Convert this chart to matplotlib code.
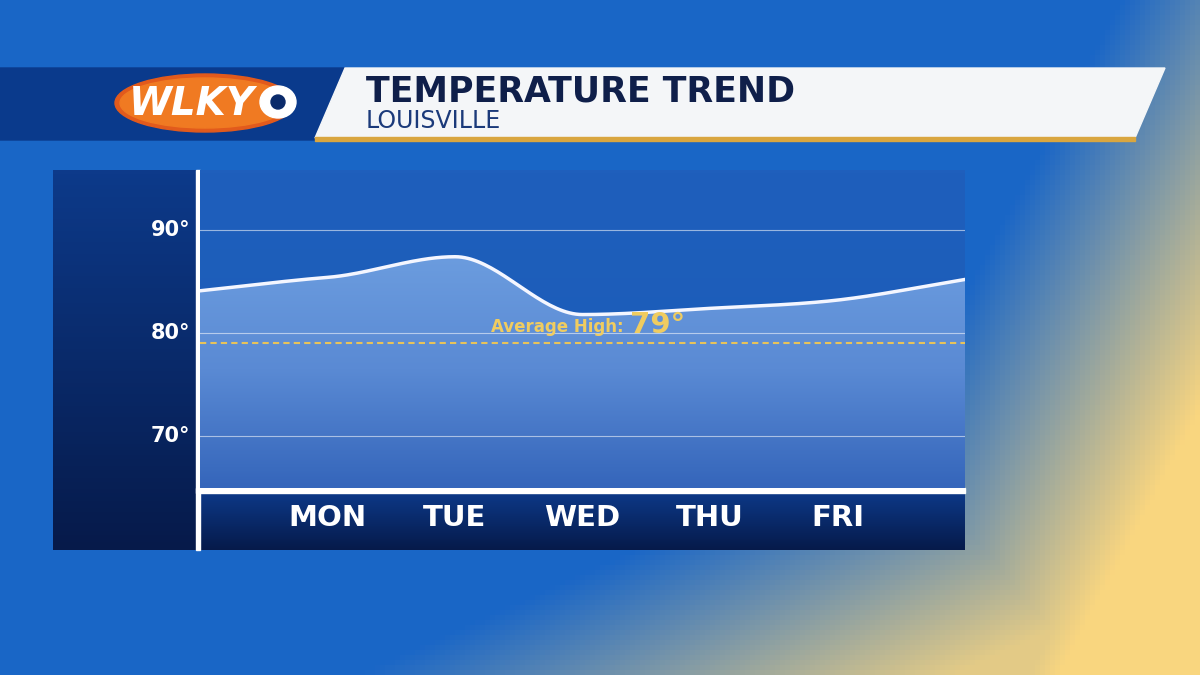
import numpy as np
import matplotlib
matplotlib.use("Agg")
import matplotlib.pyplot as plt
from matplotlib.patches import Polygon, Rectangle, Ellipse

# data
days = ["MON", "TUE", "WED", "THU", "FRI"]
curve_x = [-1, 0, 1, 2, 3, 4, 5]
curve_t = [84.1, 85.4, 87.4, 81.8, 82.4, 83.2, 85.2]
avg_high = 79
yticks = [70, 80, 90]

fig = plt.figure(figsize=(12, 6.75), dpi=100)
bg = fig.add_axes([0, 0, 1, 1])
bg.set_xlim(0, 1200)
bg.set_ylim(675, 0)
bg.axis("off")

# sky background: blue on the left, yellow-orange to the lower right
xx, yy = np.meshgrid(np.linspace(0, 1, 240), np.linspace(0, 1, 135))
blue = np.array([0.10, 0.40, 0.78])
yellow = np.array([0.98, 0.84, 0.50])
w = np.clip((xx - 0.80) * 4.0 + (yy - 0.45) * 1.2, 0, 1)[..., None]
w2 = np.clip((xx - 0.55) * 2.0 + (yy - 0.8) * 2.5, 0, 1)[..., None]
w = np.maximum(w, w2 * 0.9)
sky = blue * (1 - w) + yellow * w
bg.imshow(np.clip(sky, 0, 1), extent=[0, 1200, 675, 0], aspect="auto", zorder=0)

# header bar
bg.add_patch(Polygon([[0, 68], [345, 68], [315, 140], [0, 140]], color="#0a3a8c", zorder=2))
bg.add_patch(Polygon([[345, 68], [1165, 68], [1135, 138], [315, 138]], color="#f4f6f8", zorder=2))
bg.add_patch(Rectangle((315, 137), 820, 4, color="#d9a640", zorder=3))
bg.add_patch(Ellipse((205, 103), 180, 58, color="#e25a1c", zorder=3))
bg.add_patch(Ellipse((205, 103), 170, 50, color="#f07a22", zorder=3))
bg.text(192, 104, "WLKY", color="white", fontsize=28, fontweight="bold", style="italic",
        ha="center", va="center", family="DejaVu Sans", zorder=4)
bg.add_patch(Ellipse((278, 102), 36, 32, color="white", zorder=4))
bg.add_patch(Ellipse((278, 102), 14, 14, color="#0a2a6a", zorder=5))
bg.text(366, 92, "TEMPERATURE TREND", color="#0f1f4a", fontsize=25, fontweight="bold",
        ha="left", va="center", family="DejaVu Sans", zorder=4)
bg.text(366, 121, "LOUISVILLE", color="#1b3a7a", fontsize=17,
        ha="left", va="center", family="DejaVu Sans", zorder=4)

# chart panel
grad = np.linspace(0, 1, 100)[:, None]
left_cmap = matplotlib.colors.LinearSegmentedColormap.from_list("l", ["#0d3a8a", "#061a4a"])
bg.imshow(grad, cmap=left_cmap, extent=[53, 197, 550, 170], aspect="auto", zorder=2)
bg.imshow(grad, cmap=left_cmap, extent=[197, 965, 550, 490], aspect="auto", zorder=2)
bg.add_patch(Rectangle((196, 170), 4, 380, color="white", zorder=6))
bg.add_patch(Rectangle((196, 488), 769, 5, color="white", zorder=6))

ax = fig.add_axes([200 / 1200, 1 - 488 / 675, 765 / 1200, 318 / 675])
ymin, ymax = 65, 95.8
ax.set_xlim(-1, 5)
ax.set_ylim(ymin, ymax)
ax.axis("off")
area_cmap = matplotlib.colors.LinearSegmentedColormap.from_list("a", ["#1f5fbc", "#1a5cb8"])
ax.imshow(grad, cmap=area_cmap, extent=[-1, 5, ymin, ymax], aspect="auto", zorder=0)
for t in yticks:
    ax.axhline(t, color="white", lw=0.8, alpha=0.55, zorder=3)

# smooth curve (cubic Hermite through the points)
xs_k = np.array(curve_x, float)
ts_k = np.array(curve_t, float)
slopes = np.gradient(ts_k, xs_k)
slopes[1] = 1.0
slopes[2] = 0.0
slopes[3] = 0.0
xs, ts = [], []
for i in range(len(xs_k) - 1):
    s = np.linspace(0, 1, 40)
    h = xs_k[i + 1] - xs_k[i]
    h00 = 2 * s**3 - 3 * s**2 + 1
    h10 = s**3 - 2 * s**2 + s
    h01 = -2 * s**3 + 3 * s**2
    h11 = s**3 - s**2
    xs.append(xs_k[i] + s * h)
    ts.append(h00 * ts_k[i] + h10 * h * slopes[i] + h01 * ts_k[i + 1] + h11 * h * slopes[i + 1])
xs = np.concatenate(xs)
ts = np.concatenate(ts)

fill_cmap = matplotlib.colors.LinearSegmentedColormap.from_list("f", ["#3566bb", "#5a8ad4", "#6c9ddf"])
im = ax.imshow(grad, cmap=fill_cmap, origin="lower", extent=[-1, 5, ymin, 88], aspect="auto", zorder=2)
poly = Polygon(np.column_stack([np.r_[xs, 5, -1], np.r_[ts, ymin, ymin]]), closed=True,
               facecolor="none", edgecolor="none")
ax.add_patch(poly)
im.set_clip_path(poly)
ax.plot(xs, ts, color="#f4f6ff", lw=2.5, zorder=4)

ax.axhline(avg_high, color="#e8c35a", lw=1.5, ls=(0, (3, 2)), zorder=5)
ax.text(2.37, avg_high + 0.75, "Average High: ", color="#f0cc60", fontsize=12, fontweight="bold",
        ha="right", va="bottom", zorder=6)
ax.text(2.37, avg_high + 0.45, f"{avg_high}°", color="#f0cc60", fontsize=21, fontweight="bold",
        ha="left", va="bottom", zorder=6)

for t in yticks:
    y_px = 488 - (t - ymin) / (ymax - ymin) * 318
    bg.text(190, y_px, f"{t}°", color="white", fontsize=15, fontweight="bold",
            ha="right", va="center", zorder=7)
for i, d in enumerate(days):
    x_px = 200 + (i + 1) / 6 * 765
    bg.text(x_px, 518, d, color="white", fontsize=21, fontweight="bold",
            ha="center", va="center", zorder=7)

fig.savefig("out.png", dpi=100)
